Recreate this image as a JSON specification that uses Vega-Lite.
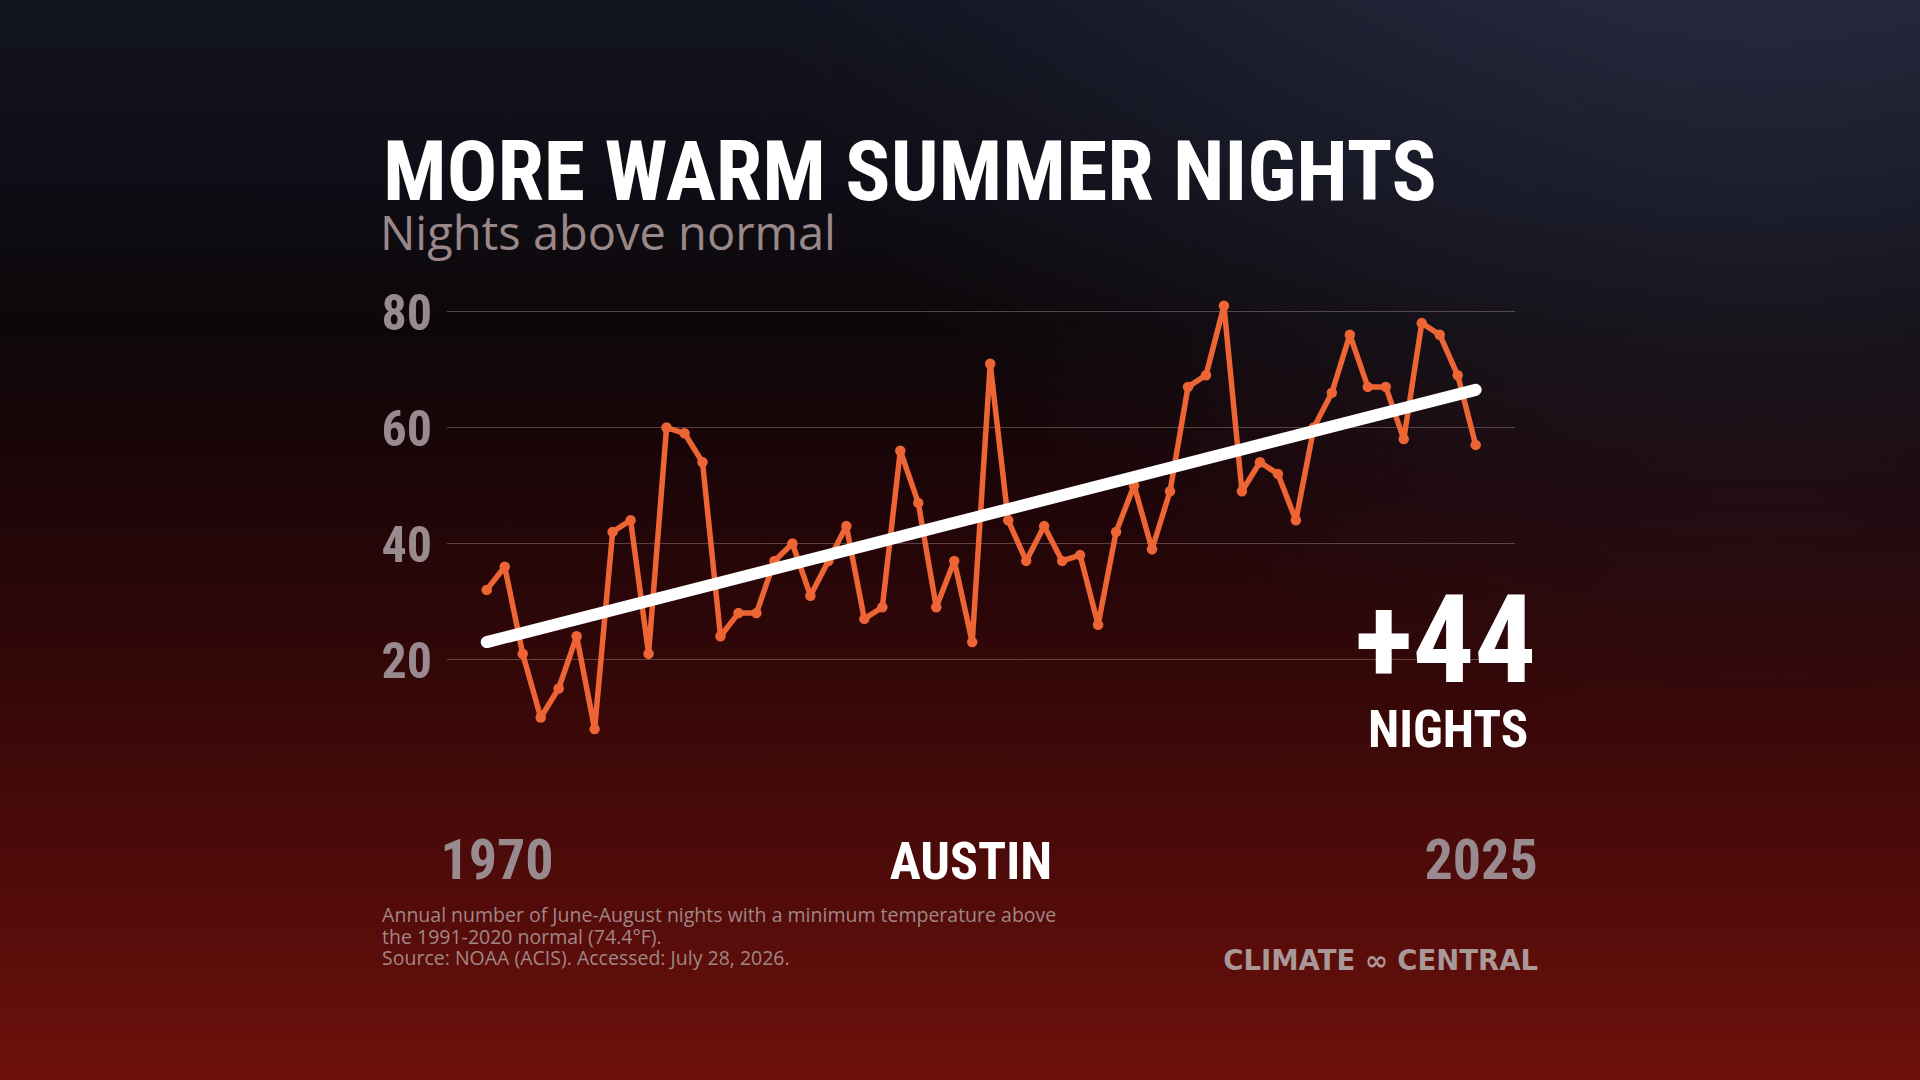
{
  "$schema": "https://vega.github.io/schema/vega-lite/v6.json",
  "width": 1920,
  "height": 1080,
  "autosize": "none",
  "padding": 0,
  "background": "#0b0a10",
  "datasets": {
    "series": [
      {"year": 1970, "nights": 32}, {"year": 1971, "nights": 36}, {"year": 1972, "nights": 21},
      {"year": 1973, "nights": 10}, {"year": 1974, "nights": 15}, {"year": 1975, "nights": 24},
      {"year": 1976, "nights": 8}, {"year": 1977, "nights": 42}, {"year": 1978, "nights": 44},
      {"year": 1979, "nights": 21}, {"year": 1980, "nights": 60}, {"year": 1981, "nights": 59},
      {"year": 1982, "nights": 54}, {"year": 1983, "nights": 24}, {"year": 1984, "nights": 28},
      {"year": 1985, "nights": 28}, {"year": 1986, "nights": 37}, {"year": 1987, "nights": 40},
      {"year": 1988, "nights": 31}, {"year": 1989, "nights": 37}, {"year": 1990, "nights": 43},
      {"year": 1991, "nights": 27}, {"year": 1992, "nights": 29}, {"year": 1993, "nights": 56},
      {"year": 1994, "nights": 47}, {"year": 1995, "nights": 29}, {"year": 1996, "nights": 37},
      {"year": 1997, "nights": 23}, {"year": 1998, "nights": 71}, {"year": 1999, "nights": 44},
      {"year": 2000, "nights": 37}, {"year": 2001, "nights": 43}, {"year": 2002, "nights": 37},
      {"year": 2003, "nights": 38}, {"year": 2004, "nights": 26}, {"year": 2005, "nights": 42},
      {"year": 2006, "nights": 50}, {"year": 2007, "nights": 39}, {"year": 2008, "nights": 49},
      {"year": 2009, "nights": 67}, {"year": 2010, "nights": 69}, {"year": 2011, "nights": 81},
      {"year": 2012, "nights": 49}, {"year": 2013, "nights": 54}, {"year": 2014, "nights": 52},
      {"year": 2015, "nights": 44}, {"year": 2016, "nights": 60}, {"year": 2017, "nights": 66},
      {"year": 2018, "nights": 76}, {"year": 2019, "nights": 67}, {"year": 2020, "nights": 67},
      {"year": 2021, "nights": 58}, {"year": 2022, "nights": 78}, {"year": 2023, "nights": 76},
      {"year": 2024, "nights": 69}, {"year": 2025, "nights": 57}
    ],
    "trend": [
      {"year": 1970, "trend": 23.0},
      {"year": 2025, "trend": 66.5}
    ],
    "grid": [
      {"v": 20}, {"v": 40}, {"v": 60}, {"v": 80}
    ],
    "one": [{}]
  },
  "layer": [
    {
      "data": {"name": "one"},
      "mark": {
        "type": "rect",
        "color": {
          "gradient": "linear", "x1": 0, "y1": 0, "x2": 0, "y2": 1,
          "stops": [
            {"offset": 0, "color": "#121420"},
            {"offset": 0.18, "color": "#0e0d15"},
            {"offset": 0.3, "color": "#0d0709"},
            {"offset": 0.45, "color": "#1d0508"},
            {"offset": 0.62, "color": "#330708"},
            {"offset": 0.82, "color": "#500b09"},
            {"offset": 1, "color": "#6e110b"}
          ]
        }
      },
      "encoding": {
        "x": {"value": 0}, "x2": {"value": "width"},
        "y": {"value": 0}, "y2": {"value": "height"}
      }
    },
    {
      "data": {"name": "one"},
      "mark": {
        "type": "rect",
        "color": {
          "gradient": "radial", "x1": 0.92, "y1": 0.05, "r1": 0, "x2": 0.92, "y2": 0.05, "r2": 0.55,
          "stops": [
            {"offset": 0, "color": "rgba(62,68,98,0.7)"},
            {"offset": 0.6, "color": "rgba(50,55,80,0.3)"},
            {"offset": 1, "color": "rgba(40,44,64,0)"}
          ]
        }
      },
      "encoding": {
        "x": {"value": 0}, "x2": {"value": "width"},
        "y": {"value": 0}, "y2": {"value": "height"}
      }
    },
    {
      "data": {"name": "grid"},
      "mark": {"type": "rule", "color": "#b49a9c", "opacity": 0.4, "strokeWidth": 1},
      "encoding": {
        "y": {"field": "v", "type": "quantitative", "scale": {"domain": [-52.5, 133.71], "nice": false, "zero": false}},
        "x": {"datum": 1967.79, "type": "quantitative", "scale": {"domain": [1942.93, 2049.71], "nice": false, "zero": false}},
        "x2": {"datum": 2027.19}
      }
    },
    {
      "data": {"name": "grid"},
      "mark": {
        "type": "text", "align": "right", "baseline": "alphabetic", "dx": -15, "dy": 18,
        "font": "'Roboto Condensed', Roboto, sans-serif",
        "fontWeight": "bold", "fontSize": 50, "color": "#988a8f"
      },
      "encoding": {
        "y": {"field": "v", "type": "quantitative"},
        "x": {"datum": 1967.79, "type": "quantitative"},
        "text": {"field": "v", "type": "quantitative"}
      }
    },
    {
      "data": {"name": "series"},
      "mark": {
        "type": "line", "color": "#ee6535", "strokeWidth": 5.5, "strokeJoin": "round",
        "point": {"filled": true, "size": 110, "color": "#ee6535", "opacity": 1}
      },
      "encoding": {
        "x": {"field": "year", "type": "quantitative"},
        "y": {"field": "nights", "type": "quantitative"}
      }
    },
    {
      "data": {"name": "trend"},
      "mark": {"type": "line", "color": "#ffffff", "strokeWidth": 12, "strokeCap": "round"},
      "encoding": {
        "x": {"field": "year", "type": "quantitative"},
        "y": {"field": "trend", "type": "quantitative"}
      }
    },
    {
      "data": {"name": "one"},
      "mark": {
        "type": "text", "text": "MORE WARM SUMMER NIGHTS", "align": "left", "baseline": "alphabetic",
        "font": "'Roboto Condensed', Roboto, sans-serif",
        "fontWeight": "bold", "fontSize": 84, "color": "#ffffff"
      },
      "encoding": {
        "x": {"datum": 1964.23, "type": "quantitative"},
        "y": {"datum": 99.22, "type": "quantitative"}
      }
    },
    {
      "data": {"name": "one"},
      "mark": {
        "type": "text", "text": "Nights above normal", "align": "left", "baseline": "alphabetic",
        "font": "Open Sans", "fontSize": 47, "color": "#9a8888"
      },
      "encoding": {
        "x": {"datum": 1964.06, "type": "quantitative"},
        "y": {"datum": 90.6, "type": "quantitative"}
      }
    },
    {
      "data": {"name": "one"},
      "mark": {
        "type": "text", "text": "+44", "align": "right", "baseline": "alphabetic",
        "font": "'Roboto Condensed', Roboto, sans-serif",
        "fontWeight": "bold", "fontSize": 122, "color": "#ffffff"
      },
      "encoding": {
        "x": {"datum": 2028.36, "type": "quantitative"},
        "y": {"datum": 16.12, "type": "quantitative"}
      }
    },
    {
      "data": {"name": "one"},
      "mark": {
        "type": "text", "text": "NIGHTS", "align": "right", "baseline": "alphabetic",
        "font": "'Roboto Condensed', Roboto, sans-serif",
        "fontWeight": "bold", "fontSize": 51, "color": "#ffffff"
      },
      "encoding": {
        "x": {"datum": 2027.92, "type": "quantitative"},
        "y": {"datum": 4.91, "type": "quantitative"}
      }
    },
    {
      "data": {"name": "one"},
      "mark": {
        "type": "text", "text": "1970", "align": "center", "baseline": "alphabetic",
        "font": "'Roboto Condensed', Roboto, sans-serif",
        "fontWeight": "bold", "fontSize": 56, "color": "#988a8f"
      },
      "encoding": {
        "x": {"datum": 1970.57, "type": "quantitative"},
        "y": {"datum": -17.84, "type": "quantitative"}
      }
    },
    {
      "data": {"name": "one"},
      "mark": {
        "type": "text", "text": "AUSTIN", "align": "center", "baseline": "alphabetic",
        "font": "'Roboto Condensed', Roboto, sans-serif",
        "fontWeight": "bold", "fontSize": 52, "color": "#ffffff"
      },
      "encoding": {
        "x": {"datum": 1996.93, "type": "quantitative"},
        "y": {"datum": -17.84, "type": "quantitative"}
      }
    },
    {
      "data": {"name": "one"},
      "mark": {
        "type": "text", "text": "2025", "align": "center", "baseline": "alphabetic",
        "font": "'Roboto Condensed', Roboto, sans-serif",
        "fontWeight": "bold", "fontSize": 56, "color": "#988a8f"
      },
      "encoding": {
        "x": {"datum": 2025.3, "type": "quantitative"},
        "y": {"datum": -17.84, "type": "quantitative"}
      }
    },
    {
      "data": {"name": "one"},
      "mark": {
        "type": "text",
        "text": [
          "Annual number of June-August nights with a minimum temperature above",
          "the 1991-2020 normal (74.4°F).",
          "Source: NOAA (ACIS). Accessed: July 28, 2026."
        ],
        "align": "left", "baseline": "alphabetic", "lineHeight": 21.5,
        "font": "Open Sans", "fontSize": 19.5, "color": "#a08787"
      },
      "encoding": {
        "x": {"datum": 1964.18, "type": "quantitative"},
        "y": {"datum": -25.26, "type": "quantitative"}
      }
    },
    {
      "data": {"name": "one"},
      "mark": {
        "type": "text", "text": "CLIMATE ∞ CENTRAL", "align": "right", "baseline": "alphabetic",
        "font": "DejaVu Sans", "fontWeight": "bold", "fontSize": 27.5, "color": "#a89898"
      },
      "encoding": {
        "x": {"datum": 2028.47, "type": "quantitative"},
        "y": {"datum": -33.53, "type": "quantitative"}
      }
    }
  ],
  "config": {
    "view": {"stroke": null},
    "axis": {"disable": true},
    "legend": {"disable": true}
  }
}
